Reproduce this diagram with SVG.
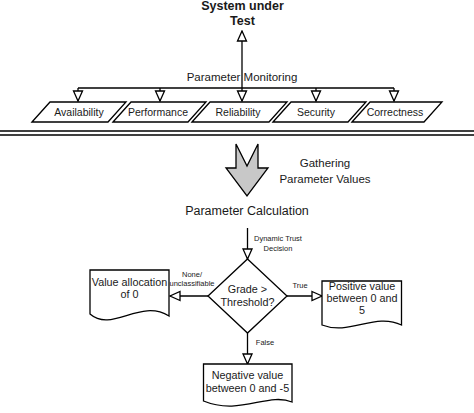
<svg xmlns="http://www.w3.org/2000/svg" width="474" height="413" viewBox="0 0 474 413">
<style>
  text { font-family: "Liberation Sans", Arial, sans-serif; fill: #1a1a1a; text-anchor: middle; }
  .shape { fill: #ffffff; stroke: #000000; stroke-width: 1.3; }
  .line { fill: none; stroke: #000000; stroke-width: 1.3; }
  .arr { fill: none; stroke: #000000; stroke-width: 1.3; marker-end: url(#hollow); }
  .lbl { font-size: 10.5px; }
  .small { font-size: 7.5px; }
  .node { font-size: 10.8px; }
</style>
<defs>
  <marker id="hollow" markerUnits="userSpaceOnUse" markerWidth="12" markerHeight="12" viewBox="0 0 12 12" refX="11" refY="6" orient="auto">
    <path d="M1,1.5 L11,6 L1,10.5 Z" fill="#ffffff" stroke="#000000" stroke-width="1.3"/>
  </marker>
</defs>
<rect x="0" y="0" width="474" height="413" fill="#ffffff"/>

<g id="connectors">
  <path class="arr" d="M242,88 V31"/>
  <path class="line" d="M78,88 H394"/>
  <path class="arr" d="M78,88 V101"/>
  <path class="arr" d="M160,88 V101"/>
  <path class="arr" d="M242,88 V101"/>
  <path class="arr" d="M316,88 V101"/>
  <path class="arr" d="M394,88 V101"/>
  <path class="arr" d="M247.5,228 V259"/>
  <path class="arr" d="M208,296 H170"/>
  <path class="arr" d="M287,296 H322"/>
  <path class="arr" d="M247.5,333 V364"/>
  <text class="small" x="278" y="241">Dynamic Trust</text>
  <text class="small" x="278" y="251">Decision</text>
  <text class="small" x="192" y="277">None/</text>
  <text class="small" x="192" y="286" font-size="7.2">unclassifiable</text>
  <text class="small" x="300" y="288">True</text>
  <text class="small" x="265" y="345">False</text>
</g>

<g id="system">
  <text x="242.5" y="9.5" font-size="12.5" font-weight="bold">System under</text>
  <text x="242.5" y="24.5" font-size="12.5" font-weight="bold">Test</text>
</g>

<g id="monitoring">
  <text x="242" y="81" font-size="11.5">Parameter Monitoring</text>
</g>

<g id="availability">
  <polygon class="shape" points="32,122 50,102 126,102 108,122"/>
  <text class="lbl" x="79" y="116">Availability</text>
</g>
<g id="performance">
  <polygon class="shape" points="113,122 131,102 206,102 188,122"/>
  <text class="lbl" x="158" y="116">Performance</text>
</g>
<g id="reliability">
  <polygon class="shape" points="192,122 210,102 287,102 269,122"/>
  <text class="lbl" x="238" y="116">Reliability</text>
</g>
<g id="security">
  <polygon class="shape" points="273,122 291,102 366,102 348,122"/>
  <text class="lbl" x="316" y="116">Security</text>
</g>
<g id="correctness">
  <polygon class="shape" points="352,122 370,102 442,102 424,122"/>
  <text class="lbl" x="395" y="116">Correctness</text>
</g>

<g id="separator">
  <path d="M0,131 H474 M0,135 H474" fill="none" stroke="#000000" stroke-width="1.6"/>
</g>

<g id="gathering">
  <polygon points="236,144 247,166 258,144 258,168 268,168 247,196 226,168 236,168" fill="#c8c8c8" stroke="#000000" stroke-width="1.3"/>
  <text x="325" y="167" font-size="11.5">Gathering</text>
  <text x="325" y="182.5" font-size="11.5">Parameter Values</text>
</g>

<g id="calculation">
  <text x="247" y="215" font-size="12.5">Parameter Calculation</text>
</g>

<g id="decision">
  <polygon class="shape" points="247.5,259 287,296 247.5,333 208,296"/>
  <text class="node" x="247.5" y="293">Grade &gt;</text>
  <text class="node" x="247.5" y="306">Threshold?</text>
</g>

<g id="zero">
  <path class="shape" d="M90,270 H169 V316 C140,298 112,333 90,314 Z"/>
  <text class="node" x="129.5" y="286">Value allocation</text>
  <text class="node" x="129.5" y="298">of 0</text>
</g>

<g id="positive">
  <path class="shape" d="M322,281 H401.5 V325 C375,312 350,336 322,325 Z"/>
  <text class="node" x="362" y="290">Positive value</text>
  <text class="node" x="362" y="302">between 0 and</text>
  <text class="node" x="362" y="314">5</text>
</g>

<g id="negative">
  <path class="shape" d="M203.5,364 H292 V402 C268,392 240,416 203.5,401 Z"/>
  <text class="node" x="247.5" y="379">Negative value</text>
  <text class="node" x="247.5" y="392">between 0 and -5</text>
</g>
</svg>
